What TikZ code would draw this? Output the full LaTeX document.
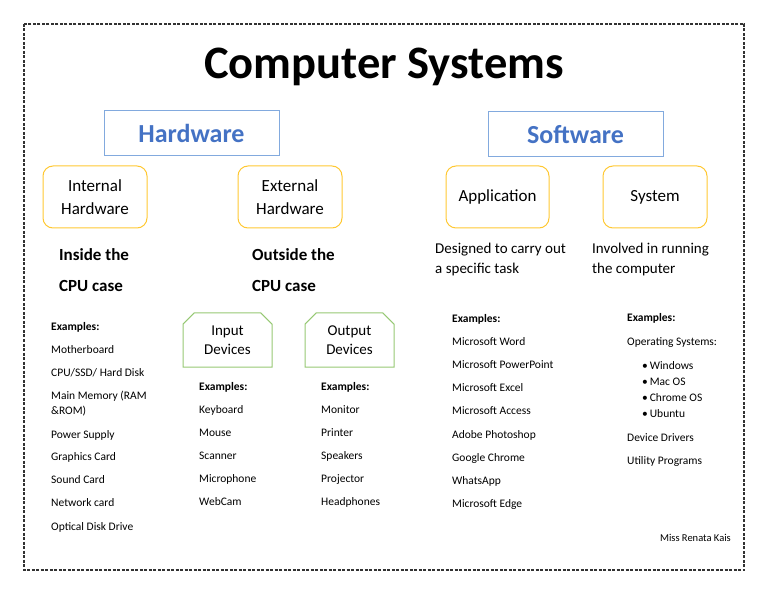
\documentclass[tikz,border=0pt]{standalone}
\usepackage{fontspec}
\setmainfont{Carlito}
\usetikzlibrary{
  positioning,
  shapes.misc
}
\definecolor{HeadBlue}{RGB}{68,114,196}
\definecolor{HeadFrame}{RGB}{130,170,222}
\definecolor{CatYellow}{RGB}{255,200,50}
\definecolor{DevGreen}{RGB}{150,200,115}
\definecolor{FrameGray}{RGB}{50,50,50}
\newcommand{\itemfont}{\fontsize{11.5}{23}\selectfont}
\tikzset{
  headbox/.style={
    draw=HeadFrame,
    line width=1pt,
    minimum width=175pt,
    minimum height=45pt,
    text=HeadBlue,
    font=\fontsize{26}{30}\selectfont\bfseries
  },
  catbox/.style={
    draw=CatYellow,
    line width=1pt,
    rounded corners=10pt,
    minimum width=104pt,
    minimum height=62pt,
    align=center,
    font=\fontsize{17}{23}\selectfont
  },
  devbox/.style={
    draw=DevGreen,
    line width=1pt,
    chamfered rectangle,
    chamfered rectangle corners={north west,north east},
    chamfered rectangle xsep=8pt,
    minimum width=89pt,
    minimum height=54pt,
    align=center,
    font=\fontsize{15}{19}\selectfont
  },
  % base of a multi-line node = baseline of its last line
  wherebox/.style={anchor=base west, inner sep=0pt, align=left,
    font=\fontsize{17}{31}\selectfont\bfseries},
  notebox/.style={anchor=base west, inner sep=0pt, align=left,
    font=\fontsize{15}{20}\selectfont},
  listbox/.style={anchor=base west, inner sep=0pt, align=left, font=\itemfont}
}

\begin{document}
\begin{tikzpicture}[x=1pt, y=-1pt]
  \useasboundingbox (0,0) rectangle (768,593);
  % frame round the sheet
  \draw[FrameGray, line width=1.2pt, dash pattern=on 3pt off 1.5pt] (24,24) rectangle (744,570);

  \node[inner sep=0pt, font=\fontsize{46.5}{50}\selectfont\bfseries] (title) at (384,67) {Computer Systems};

  % two main headings
  \node[headbox] (hw) at (191.5,133.5) {Hardware};
  \node[headbox] (sw) at (575.5,134.5) {Software};

  % categories under each heading
  \node[catbox] (int) at (95,197) {Internal\\Hardware};
  \node[catbox, right=90pt of int] (ext) {External\\Hardware};
  \node[catbox, minimum width=103pt] (app) at (497.5,197) {Application};
  \node[catbox, right=53pt of app] (sys) {System};

  \node[devbox] (inp) at (227.5,340) {Input\\Devices};
  \node[devbox, right=32pt of inp] (outp) {Output\\Devices};

  % short descriptions
  \node[wherebox] (inside) at (59,292) {Inside the\\CPU case};
  \node[wherebox] (outside) at (252,292) {Outside the\\CPU case};
  \node[notebox] (appnote) at (435,274) {Designed to carry out\\a specific task};
  \node[notebox] (sysnote) at (592,274) {Involved in running\\the computer};

  % example lists
  \node[listbox] (intlist) at (51,530) {\textbf{Examples:}\\
    Motherboard\\
    CPU/SSD/ Hard Disk\\
    Main Memory (RAM\\[-8pt]
    \&ROM)\\[1pt]
    Power Supply\\[-1pt]
    Graphics Card\\
    Sound Card\\
    Network card\\[1pt]
    Optical Disk Drive};
  \node[listbox] (inplist) at (199,505) {\textbf{Examples:}\\
    Keyboard\\
    Mouse\\
    Scanner\\
    Microphone\\
    WebCam};
  \node[listbox] (outlist) at (321,505) {\textbf{Examples:}\\
    Monitor\\
    Printer\\
    Speakers\\
    Projector\\
    Headphones};
  \node[listbox] (applist) at (452,507) {\textbf{Examples:}\\
    Microsoft Word\\
    Microsoft PowerPoint\\
    Microsoft Excel\\
    Microsoft Access\\[1pt]
    Adobe Photoshop\\
    Google Chrome\\
    WhatsApp\\
    Microsoft Edge};
  \node[listbox] (syslist) at (627,464) {\textbf{Examples:}\\[1pt]
    Operating Systems:\\[1pt]
    \hspace*{15pt}\textbullet\,Windows\\[-7pt]
    \hspace*{15pt}\textbullet\,Mac OS\\[-7pt]
    \hspace*{15pt}\textbullet\,Chrome OS\\[-7pt]
    \hspace*{15pt}\textbullet\,Ubuntu\\[1pt]
    Device Drivers\\
    Utility Programs};

  \node[inner sep=0pt, anchor=base east, font=\fontsize{10.5}{12}\selectfont] (author) at (731,541) {Miss Renata Kais};
\end{tikzpicture}
\end{document}
